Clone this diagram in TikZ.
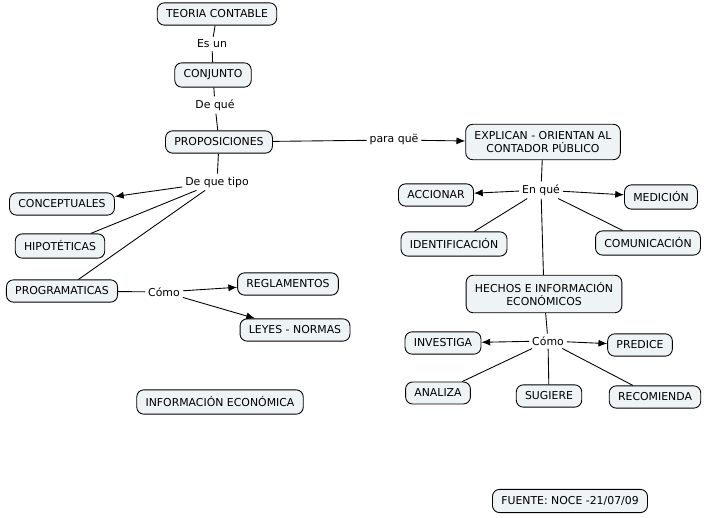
\documentclass[tikz,border=0pt]{standalone}
\usepackage{fontspec}
\setmainfont{DejaVu Sans}
\usepackage{xcolor}
\usetikzlibrary{arrows.meta}
\definecolor{cfill}{HTML}{EEF3F5}
\tikzset{
  concept/.style={draw, rounded corners=4pt, fill=cfill, font=\fontsize{6.2}{7.5}\selectfont, inner xsep=5pt, inner ysep=4pt, align=center, drop shadow/.style={}},
  link/.style={fill=white, font=\fontsize{6.2}{7.5}\selectfont, inner sep=1.5pt},
  arr/.style={-{Latex[length=5pt,width=4pt]}}
}
\begin{document}
\begin{tikzpicture}[x=0.02cm, y=-0.02cm, line width=0.5pt]
        \useasboundingbox (0, 0) rectangle (709, 517);
        \node (teoria) at (217, 14) [concept] {TEORIA CONTABLE};
        \node (esun) at (212, 44) [link] {Es un};
        \node (conjunto) at (213, 75) [concept] {CONJUNTO};
        \node (deque) at (215, 105) [link] {De qué};
        \node (prop) at (219, 142) [concept] {PROPOSICIONES};
        \node (para) at (394, 140) [link] {para quë};
        \node (explican) at (543, 142) [concept] {EXPLICAN - ORIENTAN AL\\CONTADOR PÚBLICO};
        \node (tipo) at (217, 182) [link] {De que tipo};
        \node (concep) at (62, 204) [concept] {CONCEPTUALES};
        \node (hipo) at (60, 246) [concept] {HIPOTÉTICAS};
        \node (progr) at (62, 291) [concept] {PROGRAMATICAS};
        \node (como1) at (164, 292) [link] {Cómo};
        \node (regla) at (288, 284) [concept] {REGLAMENTOS};
        \node (leyes) at (295, 330) [concept] {LEYES - NORMAS};
        \node (infoeco) at (220, 402) [concept] {INFORMACIÓN ECONÓMICA};
        \node (enque) at (541, 190) [link] {En qué};
        \node (accionar) at (436, 195) [concept] {ACCIONAR};
        \node (medicion) at (661, 197) [concept] {MEDICIÓN};
        \node (ident) at (454, 244) [concept] {IDENTIFICACIÓN};
        \node (comun) at (648, 243) [concept] {COMUNICACIÓN};
        \node (hechos) at (544, 294) [concept] {HECHOS E INFORMACIÓN\\ECONÓMICOS};
        \node (como2) at (548, 341) [link] {Cómo};
        \node (investiga) at (443, 343) [concept] {INVESTIGA};
        \node (predice) at (640, 345) [concept] {PREDICE};
        \node (analiza) at (438, 393) [concept] {ANALIZA};
        \node (sugiere) at (549, 396) [concept] {SUGIERE};
        \node (recom) at (655, 397) [concept] {RECOMIENDA};
        \node (fuente) at (570, 501) [concept] {FUENTE: NOCE -21/07/09};
        \draw (teoria) -- (esun);
        \draw (esun) -- (conjunto);
        \draw (conjunto) -- (deque);
        \draw (deque) -- (prop);
        \draw (prop) -- (para);
        \draw [arr] (para) -- (explican);
        \draw (prop) -- (tipo);
        \draw [arr] (tipo) -- (concep);
        \draw (tipo) -- (hipo);
        \draw (tipo) -- (progr);
        \draw (progr) -- (como1);
        \draw [arr] (como1) -- (regla);
        \draw [arr] (como1) -- (leyes);
        \draw (explican) -- (enque);
        \draw [arr] (enque) -- (accionar);
        \draw [arr] (enque) -- (medicion);
        \draw (enque) -- (ident);
        \draw (enque) -- (comun);
        \draw (enque) -- (hechos);
        \draw (hechos) -- (como2);
        \draw [arr] (como2) -- (investiga);
        \draw [arr] (como2) -- (predice);
        \draw (como2) -- (analiza);
        \draw (como2) -- (sugiere);
        \draw (como2) -- (recom);
\end{tikzpicture}
\end{document}
